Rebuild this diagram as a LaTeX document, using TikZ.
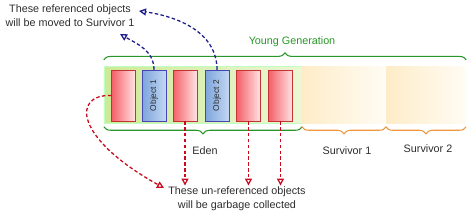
\documentclass[tikz,border=0pt]{standalone}
\usepackage{fontspec}
\setmainfont{Liberation Sans}
\usepackage{tikz}
\usetikzlibrary{arrows.meta,positioning,calc,decorations.pathreplacing}
\definecolor{youngG}{RGB}{40,150,40}
\definecolor{survO}{RGB}{240,150,60}
\definecolor{refB}{RGB}{30,30,140}
\definecolor{garbR}{RGB}{200,10,30}
\definecolor{txtG}{RGB}{45,45,45}

\begin{document}
\begin{tikzpicture}[
  x=0.03cm, y=-0.03cm,
  lbl/.style={align=center, text=txtG, inner sep=1pt,
    font=\fontsize{9.2}{12}\selectfont},
  area/.style={minimum height=1.71cm, inner sep=0pt},
  dead/.style={draw=red!70!black!80, line width=0.4pt,
    left color={rgb,255:red,245;green,95;blue,105}, right color={rgb,255:red,255;green,228;blue,228},
    minimum width=0.72cm, minimum height=1.53cm, inner sep=0pt},
  live/.style={draw=blue!45!gray, line width=0.4pt,
    left color={rgb,255:red,125;green,165;blue,220}, right color={rgb,255:red,195;green,215;blue,242},
    minimum width=0.72cm, minimum height=1.53cm, inner sep=0pt, text=txtG,
    font=\fontsize{7.2}{8}\selectfont},
  gbrace/.style={decorate, decoration={brace, amplitude=6pt}, line width=0.9pt},
  toS/.style={-{Triangle[open,length=6pt,width=6pt]}, refB, line width=1.1pt,
    dash pattern=on 3pt off 2pt},
  toGC/.style={-{Triangle[open,length=6pt,width=6pt]}, garbR, line width=1.1pt,
    dash pattern=on 3pt off 2pt}
]
\useasboundingbox (0,0) rectangle (474,214);
%% ─── Heap areas ─────────────────────────────────────────────────────────────
\node[area, draw=green!25!white, left color={rgb,255:red,205;green,234;blue,150},
  right color={rgb,255:red,236;green,246;blue,212}, minimum width=5.94cm] (eden) at (203,94.5) {};
\node[area, left color={rgb,255:red,254;green,236;blue,200}, right color={rgb,255:red,255;green,252;blue,244},
  minimum width=2.52cm] (s1) at (344,94.5) {};
\node[area, left color={rgb,255:red,254;green,236;blue,200}, right color={rgb,255:red,255;green,252;blue,244},
  minimum width=2.40cm] (s2) at (426,94.5) {};
%% ─── Objects in Eden ────────────────────────────────────────────────────────
\node[dead] (d1)   at (123.5,95.5) {};
\node[live] (obj1) at (154,95.5)   {\rotatebox{90}{Object 1}};
\node[dead] (d2)   at (185,95.5)   {};
\node[live] (obj2) at (217,95.5)   {\rotatebox{90}{Object 2}};
\node[dead] (d3)   at (248.5,95.5) {};
\node[dead] (d4)   at (280.5,95.5) {};
%% ─── Braces and labels ──────────────────────────────────────────────────────
\draw[gbrace, youngG] ([yshift=5pt]eden.north west) -- ([yshift=5pt]s2.north east);
\draw[gbrace, youngG] ([yshift=-3pt]eden.south east) -- ([yshift=-3pt]eden.south west);
\draw[gbrace, survO]  ([yshift=-3pt]s1.south east) -- ([yshift=-3pt]s1.south west);
\draw[gbrace, survO]  ([yshift=-3pt]s2.south east) -- ([yshift=-3pt]s2.south west);
\node[lbl, text=youngG] (younglbl) at (292,42)  {Young Generation};
\node[lbl]              (edenlbl)  at (205,151) {Eden};
\node[lbl]              (s1lbl)    at (347,151) {Survivor 1};
\node[lbl]              (s2lbl)    at (428,149) {Survivor 2};
%% ─── Notes ──────────────────────────────────────────────────────────────────
\node[lbl] (reftxt) at (70,16)  {These referenced objects\\will be moved to Survivor 1};
\node[lbl] (gctxt)  at (237,199) {These un-referenced objects\\will be garbage collected};
\coordinate (tipA) at (139,11);
\coordinate (tipB) at (120,34);
\coordinate (tipC) at (164,188);
%% ─── Arrows ─────────────────────────────────────────────────────────────────
\draw[toS] (obj2.north) to[out=90, in=-8]  (tipA);
\draw[toS] (obj1.north) to[out=90, in=-30] (tipB);
\draw[toGC] (d1.west) .. controls (72,94) and (74,138) .. (tipC);
\draw[toGC] (d2.south) -- (d2.south |- gctxt.north);
\draw[toGC] (d3.south) -- (d3.south |- gctxt.north);
\draw[toGC] (d4.south) -- (d4.south |- gctxt.north);
\end{tikzpicture}
\end{document}
